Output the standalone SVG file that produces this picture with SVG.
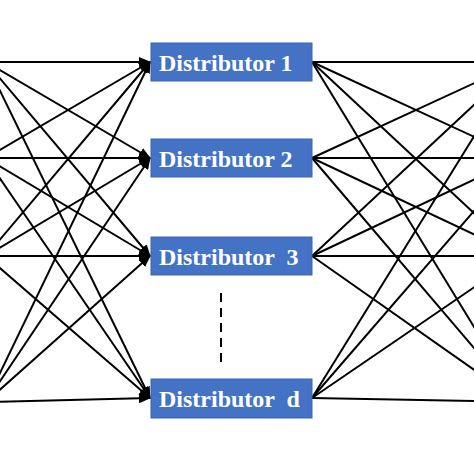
<svg xmlns="http://www.w3.org/2000/svg" width="474" height="474" viewBox="0 0 474 474">
<style>
.box{fill:#4472C4;stroke:#3b64ad;stroke-width:1}
.lbl{font-family:"Liberation Serif","Times New Roman",serif;font-weight:bold;font-size:24px;fill:#ffffff}
.ln{stroke:#000;stroke-width:2;fill:none}
.arr{marker-end:url(#ah)}
</style>
<defs>
<marker id="ah" markerUnits="userSpaceOnUse" markerWidth="12" markerHeight="10" refX="11" refY="5" orient="auto">
<path d="M0,0 L12,5 L0,10 z" fill="#000"/>
</marker>
</defs>
<rect width="474" height="474" fill="#fff"/>
<g id="connectors">
<line class="ln arr" x1="-14" y1="62" x2="150" y2="62"/>
<line class="ln arr" x1="-14" y1="62" x2="150" y2="158"/>
<line class="ln arr" x1="-14" y1="62" x2="150" y2="256"/>
<line class="ln arr" x1="-14" y1="62" x2="150" y2="398"/>
<line class="ln arr" x1="-14" y1="158" x2="150" y2="62"/>
<line class="ln arr" x1="-14" y1="158" x2="150" y2="158"/>
<line class="ln arr" x1="-14" y1="158" x2="150" y2="256"/>
<line class="ln arr" x1="-14" y1="158" x2="150" y2="398"/>
<line class="ln arr" x1="-14" y1="256" x2="150" y2="62"/>
<line class="ln arr" x1="-14" y1="256" x2="150" y2="158"/>
<line class="ln arr" x1="-14" y1="256" x2="150" y2="256"/>
<line class="ln arr" x1="-14" y1="256" x2="150" y2="398"/>
<line class="ln arr" x1="-14" y1="402" x2="150" y2="62"/>
<line class="ln arr" x1="-14" y1="402" x2="150" y2="158"/>
<line class="ln arr" x1="-14" y1="402" x2="150" y2="256"/>
<line class="ln arr" x1="-14" y1="402" x2="150" y2="398"/>
<line class="ln" x1="312" y1="62" x2="520" y2="62"/>
<line class="ln" x1="312" y1="62" x2="520" y2="158"/>
<line class="ln" x1="312" y1="62" x2="520" y2="256"/>
<line class="ln" x1="312" y1="62" x2="520" y2="402"/>
<line class="ln" x1="312" y1="158" x2="520" y2="62"/>
<line class="ln" x1="312" y1="158" x2="520" y2="158"/>
<line class="ln" x1="312" y1="158" x2="520" y2="256"/>
<line class="ln" x1="312" y1="158" x2="520" y2="402"/>
<line class="ln" x1="312" y1="256" x2="520" y2="62"/>
<line class="ln" x1="312" y1="256" x2="520" y2="158"/>
<line class="ln" x1="312" y1="256" x2="520" y2="256"/>
<line class="ln" x1="312" y1="256" x2="520" y2="402"/>
<line class="ln" x1="312" y1="398" x2="520" y2="62"/>
<line class="ln" x1="312" y1="398" x2="520" y2="158"/>
<line class="ln" x1="312" y1="398" x2="520" y2="256"/>
<line class="ln" x1="312" y1="398" x2="520" y2="402"/>
<line class="ln" x1="221" y1="293" x2="221" y2="366" stroke-dasharray="9,6" stroke-width="2.5"/>
</g>
<g id="d1">
<rect class="box" x="151" y="43" width="161" height="38"/>
<text class="lbl" x="159" y="71" xml:space="preserve">Distributor 1</text>
</g>
<g id="d2">
<rect class="box" x="151" y="139" width="161" height="38"/>
<text class="lbl" x="159" y="167" xml:space="preserve">Distributor 2</text>
</g>
<g id="d3">
<rect class="box" x="151" y="237" width="161" height="38"/>
<text class="lbl" x="159" y="265" xml:space="preserve">Distributor  3</text>
</g>
<g id="dd">
<rect class="box" x="151" y="379" width="161" height="39"/>
<text class="lbl" x="159" y="407" xml:space="preserve">Distributor  d</text>
</g>
</svg>
